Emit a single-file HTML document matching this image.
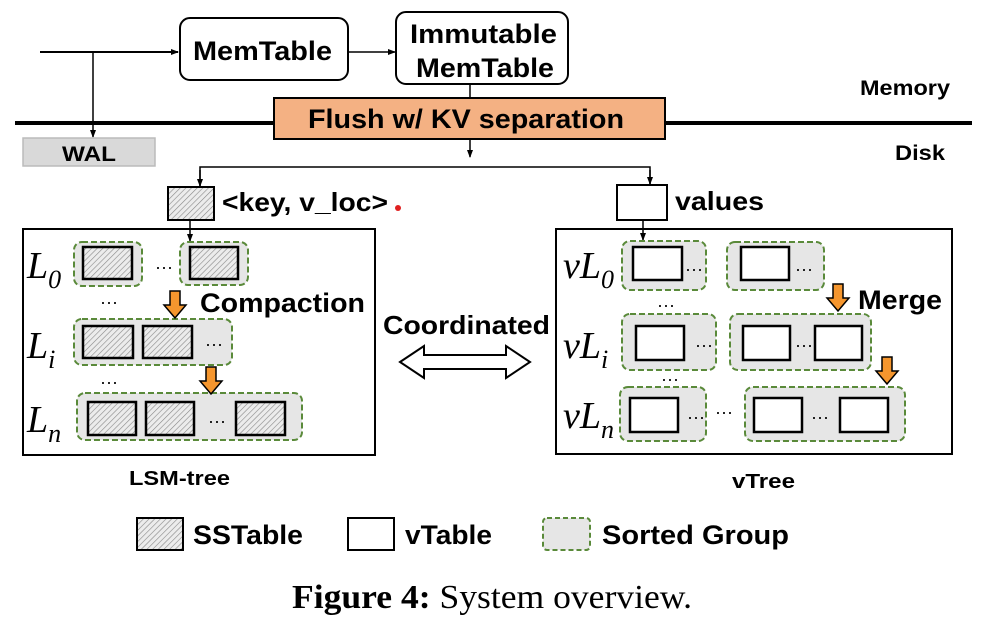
<!DOCTYPE html>
<html><head><meta charset="utf-8"><style>
html,body{margin:0;padding:0;background:#fff}
svg{display:block}
text{font-family:"Liberation Sans",Arial,sans-serif;font-weight:bold;fill:#000}
.it{font-family:"Liberation Serif",serif;font-style:italic;font-weight:normal}
</style></head><body>
<svg width="984" height="630" viewBox="0 0 984 630" xmlns="http://www.w3.org/2000/svg">
<defs>
<pattern id="h" width="4" height="4" patternUnits="userSpaceOnUse" patternTransform="rotate(45)">
<rect width="4" height="4" fill="#ececec"/><line x1="0" y1="0" x2="0" y2="4" stroke="#888" stroke-width="1.2"/>
</pattern>
<marker id="a" markerWidth="8" markerHeight="8" refX="7" refY="4" orient="auto" markerUnits="userSpaceOnUse"><path d="M0,1 L8,4 L0,7 z" fill="#000"/></marker>
<g id="oa"><polygon points="-5,0 5,0 5,14 11,14 0,27 -11,14 -5,14" fill="#f5962e" stroke="#000" stroke-width="1.5"/></g>
</defs>

<line x1="40" y1="52" x2="178" y2="52" stroke="#000" stroke-width="2" marker-end="url(#a)"/>
<line x1="93" y1="52" x2="93" y2="137" stroke="#000" stroke-width="1.5" marker-end="url(#a)"/>
<rect x="180" y="18" width="168" height="62" rx="10" fill="#fff" stroke="#000" stroke-width="2"/>
<text x="193" y="60" font-size="27" textLength="139" lengthAdjust="spacingAndGlyphs">MemTable</text>
<line x1="348" y1="52" x2="395" y2="52" stroke="#000" stroke-width="1.5" marker-end="url(#a)"/>
<rect x="396" y="12" width="172" height="72" rx="10" fill="#fff" stroke="#000" stroke-width="2"/>
<text x="410" y="43" font-size="27" textLength="147" lengthAdjust="spacingAndGlyphs">Immutable</text>
<text x="416" y="77" font-size="27" textLength="138" lengthAdjust="spacingAndGlyphs">MemTable</text>
<line x1="470" y1="84" x2="470" y2="98" stroke="#000" stroke-width="1.5"/>
<line x1="15" y1="123" x2="972" y2="123" stroke="#000" stroke-width="4"/>
<rect x="274" y="98" width="391" height="41" fill="#f4b183" stroke="#000" stroke-width="2"/>
<text x="308" y="128" font-size="27" textLength="316" lengthAdjust="spacingAndGlyphs">Flush w/ KV separation</text>
<rect x="23" y="138" width="132" height="28" fill="#d9d9d9" stroke="#bbb" stroke-width="1.5"/>
<text x="62" y="161" font-size="21" textLength="54" lengthAdjust="spacingAndGlyphs">WAL</text>
<text x="860" y="95" font-size="21" textLength="90" lengthAdjust="spacingAndGlyphs">Memory</text>
<text x="895" y="160" font-size="21" textLength="50" lengthAdjust="spacingAndGlyphs">Disk</text>

<line x1="470" y1="139" x2="470" y2="157" stroke="#000" stroke-width="1.5" marker-end="url(#a)"/>
<polyline points="200,186 200,167 650,167 650,184" fill="none" stroke="#000" stroke-width="1.5"/>
<line x1="200" y1="170" x2="200" y2="186" stroke="#000" stroke-width="1.5" marker-end="url(#a)"/>
<line x1="650" y1="170" x2="650" y2="184" stroke="#000" stroke-width="1.5" marker-end="url(#a)"/>
<rect x="168" y="187" width="46" height="33" fill="url(#h)" stroke="#000" stroke-width="2"/>
<text x="222" y="211" font-size="26" textLength="166" lengthAdjust="spacingAndGlyphs">&lt;key, v_loc&gt;</text>
<circle cx="398" cy="208" r="3" fill="#e02020"/>
<rect x="617" y="185" width="50" height="35" fill="#fff" stroke="#000" stroke-width="2"/>
<text x="675" y="210" font-size="26" textLength="89" lengthAdjust="spacingAndGlyphs">values</text>

<rect x="23" y="229" width="352" height="226" fill="#fff" stroke="#000" stroke-width="2"/>
<line x1="190" y1="220" x2="190" y2="241" stroke="#000" stroke-width="1.5" marker-end="url(#a)"/>
<g stroke="#5a8a3a" stroke-width="2" stroke-dasharray="6,3" fill="#e6e6e6">
<rect x="74" y="242" width="68" height="44" rx="8"/>
<rect x="180" y="242" width="68" height="43" rx="8"/>
<rect x="74" y="319" width="158" height="46" rx="8"/>
<rect x="77" y="393" width="225" height="47" rx="8"/>
</g>
<g fill="url(#h)" stroke="#000" stroke-width="2.5">
<rect x="83" y="247" width="49" height="32"/>
<rect x="190" y="247" width="48" height="32"/>
<rect x="83" y="326" width="50" height="32"/>
<rect x="143" y="326" width="49" height="32"/>
<rect x="88" y="402" width="48" height="33"/>
<rect x="146" y="402" width="48" height="33"/>
<rect x="236" y="402" width="49" height="33"/>
</g>
<g font-size="18">
<text x="155" y="273" style="font-weight:normal">···</text>
<text x="100" y="308" style="font-weight:normal">···</text>
<text x="205" y="350" style="font-weight:normal">···</text>
<text x="100" y="388" style="font-weight:normal">···</text>
<text x="208" y="427" style="font-weight:normal">···</text>
</g>
<text class="it" x="27" y="278" font-size="38">L<tspan font-size="26" dy="10">0</tspan></text>
<text class="it" x="27" y="358" font-size="38">L<tspan font-size="26" dy="10">i</tspan></text>
<text class="it" x="27" y="432" font-size="38">L<tspan font-size="26" dy="10">n</tspan></text>
<use href="#oa" x="175" y="291"/>
<use href="#oa" x="211" y="367"/>
<text x="200" y="312" font-size="27" textLength="165" lengthAdjust="spacingAndGlyphs">Compaction</text>
<text x="129" y="485" font-size="20" textLength="101" lengthAdjust="spacingAndGlyphs">LSM-tree</text>

<text x="383" y="334" font-size="26" textLength="167" lengthAdjust="spacingAndGlyphs">Coordinated</text>
<polygon points="400,362 424,346 424,355 506,355 506,346 530,362 506,378 506,369 424,369 424,378" fill="#fff" stroke="#000" stroke-width="2"/>

<rect x="556" y="229" width="396" height="225" fill="#fff" stroke="#000" stroke-width="2"/>
<line x1="643" y1="220" x2="643" y2="240" stroke="#000" stroke-width="1.5" marker-end="url(#a)"/>
<g stroke="#5a8a3a" stroke-width="2" stroke-dasharray="6,3" fill="#e6e6e6">
<rect x="622" y="241" width="84" height="49" rx="8"/>
<rect x="727" y="242" width="97" height="48" rx="8"/>
<rect x="622" y="314" width="94" height="56" rx="8"/>
<rect x="730" y="314" width="141" height="56" rx="8"/>
<rect x="620" y="387" width="86" height="54" rx="8"/>
<rect x="745" y="387" width="160" height="54" rx="8"/>
</g>
<g fill="#fff" stroke="#000" stroke-width="2.5">
<rect x="633" y="247" width="49" height="33"/>
<rect x="741" y="247" width="48" height="33"/>
<rect x="636" y="326" width="48" height="34"/>
<rect x="743" y="326" width="47" height="34"/>
<rect x="815" y="326" width="47" height="34"/>
<rect x="630" y="398" width="48" height="34"/>
<rect x="754" y="398" width="48" height="34"/>
<rect x="840" y="398" width="48" height="34"/>
</g>
<g font-size="18">
<text x="685" y="275" style="font-weight:normal">···</text>
<text x="795" y="275" style="font-weight:normal">···</text>
<text x="657" y="311" style="font-weight:normal">···</text>
<text x="695" y="351" style="font-weight:normal">···</text>
<text x="795" y="351" style="font-weight:normal">···</text>
<text x="661" y="385" style="font-weight:normal">···</text>
<text x="687" y="423" style="font-weight:normal">···</text>
<text x="715" y="418" style="font-weight:normal">···</text>
<text x="811" y="423" style="font-weight:normal">···</text>
</g>
<text class="it" x="563" y="278" font-size="38">vL<tspan font-size="26" dy="10">0</tspan></text>
<text class="it" x="563" y="358" font-size="38">vL<tspan font-size="26" dy="10">i</tspan></text>
<text class="it" x="563" y="428" font-size="38">vL<tspan font-size="26" dy="10">n</tspan></text>
<use href="#oa" x="838" y="284"/>
<use href="#oa" x="887" y="357"/>
<text x="858" y="309" font-size="27" textLength="84" lengthAdjust="spacingAndGlyphs">Merge</text>
<text x="732" y="488" font-size="20" textLength="63" lengthAdjust="spacingAndGlyphs">vTree</text>

<rect x="137" y="518" width="46" height="32" fill="url(#h)" stroke="#000" stroke-width="2"/>
<text x="193" y="544" font-size="27" textLength="110" lengthAdjust="spacingAndGlyphs">SSTable</text>
<rect x="348" y="518" width="46" height="32" fill="#fff" stroke="#000" stroke-width="2"/>
<text x="405" y="544" font-size="27" textLength="87" lengthAdjust="spacingAndGlyphs">vTable</text>
<rect x="543" y="518" width="47" height="32" rx="4" fill="#e6e6e6" stroke="#5a8a3a" stroke-width="2" stroke-dasharray="5,3"/>
<text x="602" y="544" font-size="27" textLength="187" lengthAdjust="spacingAndGlyphs">Sorted Group</text>

<text x="292" y="608" font-size="34" textLength="400" lengthAdjust="spacingAndGlyphs" style="font-family:'Liberation Serif',serif;font-weight:normal"><tspan font-weight="bold">Figure 4:</tspan> System overview.</text>
</svg>
</body></html>
